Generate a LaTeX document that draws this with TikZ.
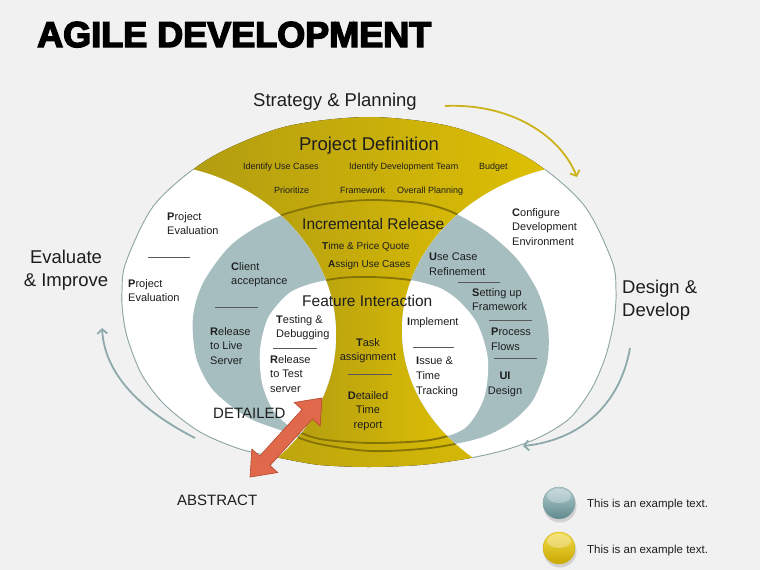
\documentclass[tikz,border=0pt]{standalone}
\usepackage{fontspec}
\setmainfont{Liberation Sans}
\newfontfamily\blackfont[FakeBold=4]{Liberation Sans}
\usetikzlibrary{arrows.meta}
\definecolor{bgc}{HTML}{F1F1F1}
\definecolor{ydark}{HTML}{AA9614}
\definecolor{ymid}{HTML}{D4B705}
\definecolor{ybright}{HTML}{E6C600}
\definecolor{yline}{HTML}{857305}
\definecolor{tealc}{HTML}{A6BEC0}
\definecolor{tealedge}{HTML}{8FA8AA}
\definecolor{arrteal}{HTML}{8DA9AB}
\definecolor{arryel}{HTML}{CDB21C}
\definecolor{redfill}{HTML}{E0694B}
\definecolor{redline}{HTML}{B5472E}
\definecolor{inkc}{HTML}{1E1E1E}
\definecolor{balltl}{HTML}{B3CDCF}
\definecolor{balltd}{HTML}{5F8A8E}
\definecolor{ballyl}{HTML}{F3DC4A}
\definecolor{ballyd}{HTML}{C9A800}
\begin{document}
\begin{tikzpicture}[x=1pt,y=-1pt,
  txt/.style={inner sep=0pt, text=inkc, font=\fontsize{11}{14.7}\selectfont, align=left, anchor=north west},
  txtcen/.style={txt, align=center, anchor=north},
  smalltxt/.style={inner sep=0pt, text=inkc, font=\fontsize{9}{11}\selectfont, anchor=north west},
  bigtxt/.style={inner sep=0pt, text=inkc, font=\fontsize{18.5}{22.5}\selectfont},
  bandtxt/.style={inner sep=0pt, text=inkc, font=\fontsize{15.5}{18}\selectfont, anchor=north west},
  divl/.style={draw=black!65, line width=0.8pt},
  carrow/.style={line width=1.8pt, -{Straight Barb[length=4.5pt,width=10pt]}},
  yshade/.style={left color=ydark, middle color=ymid, right color=ybright},
]
\useasboundingbox[fill=bgc] (0,0) rectangle (760,570);

\def\pO{plot[smooth cycle] coordinates {(369,117) (453,127) (528,158) (583,204) (612,261) (616,292) (614,320) (606,355) (592,388) (570,418) (540,437) (505,450) (465,459) (420,465) (369,467) (320,465) (280,458) (240,449) (200,432) (165,405) (142,375) (128,340) (123,315) (122,292) (126,262) (155,204) (210,158) (284,127)}}
\def\pM{plot[smooth cycle] coordinates {(370,200) (420,203) (452,212) (487,232) (517,259) (538,292) (548,327) (547,363) (533,400) (510,423) (480,438) (430,448) (370,451) (315,443) (280,430) (247,417) (213,390) (196,357) (193,317) (203,283) (228,248) (255,228) (285,214) (325,204)}}
\def\pI{plot[smooth cycle] coordinates {(372,277) (410,280) (440,288) (460,302) (478,325) (488,360) (484,398) (465,428) (430,440) (372,443) (320,439) (292,428) (273,410) (262,383) (260,350) (268,318) (288,294) (310,284) (340,278)}}

% yellow bands
\fill[yshade] \pO;
\filldraw[yshade, draw=yline, line width=1.8pt] \pM;
\filldraw[yshade, draw=yline, line width=1.8pt] \pI;

% left part
\begin{scope}
  \clip (140,335) ellipse [x radius=196pt, y radius=172pt];
  \fill[white] \pO;
  \fill[tealc] \pM;
  \fill[white] \pI;
  \draw[tealedge, line width=0.9pt] \pO;
\end{scope}
% right part
\begin{scope}
  \clip (605,330) ellipse [x radius=203pt, y radius=168pt];
  \fill[white] \pO;
  \fill[tealc] \pM;
  \fill[white] \pI;
  \draw[tealedge, line width=0.9pt] \pO;
\end{scope}

% title
\node[inner sep=0pt, anchor=base west, font=\blackfont\bfseries\fontsize{36}{40}\selectfont] (title) at (37,47) {AGILE DEVELOPMENT};

% top texts
\node[bigtxt, anchor=north] (strat) at (335,93) {Strategy \& Planning};
\node[bigtxt, anchor=north] (pdef) at (369,137) {Project Definition};
\node[smalltxt] (iuc) at (243,163) {Identify Use Cases};
\node[smalltxt] (idt) at (349,163) {Identify Development Team};
\node[smalltxt] (bud) at (479,163) {Budget};
\node[smalltxt] (pri) at (274,187) {Prioritize};
\node[smalltxt] (frm) at (340,187) {Framework};
\node[smalltxt] (ovp) at (397,187) {Overall Planning};
\node[bandtxt] (inc) at (302,218) {Incremental Release};
\node[txt, font=\fontsize{10}{12}\selectfont] (tpq) at (322,242) {\textbf{T}ime \& Price Quote};
\node[txt, font=\fontsize{10}{12}\selectfont] (auc) at (328,260) {\textbf{A}ssign Use Cases};
\node[bandtxt] (fea) at (302,295) {Feature Interaction};

% left texts
\node[txt] (pe1) at (167,212) {\textbf{P}roject\\Evaluation};
\draw[divl] (148,257) -- (190,257);
\node[txt] (pe2) at (128,279) {\textbf{P}roject\\Evaluation};
\node[txt] (cli) at (231,262) {\textbf{C}lient\\acceptance};
\draw[divl] (215,307) -- (258,307);
\node[txt] (rls) at (210,327) {\textbf{R}elease\\to Live\\Server};
\node[txt] (tst) at (276,315) {\textbf{T}esting \&\\Debugging};
\draw[divl] (273,348) -- (317,348);
\node[txt] (rts) at (270,355) {\textbf{R}elease\\to Test\\server};

% centre texts
\node[txtcen] (tas) at (368,338) {\textbf{T}ask\\assignment};
\draw[divl] (348,374) -- (392,374);
\node[txtcen] (dtr) at (368,391) {\textbf{D}etailed\\Time\\report};

% right texts
\node[txt] (imp) at (407,317) {\textbf{I}mplement};
\draw[divl] (413,347) -- (454,347);
\node[txt] (iss) at (416,357) {\textbf{I}ssue \&\\Time\\Tracking};
\node[txt] (ucr) at (429,253) {\textbf{U}se Case\\Refinement};
\draw[divl] (458,282) -- (500,282);
\node[txt] (stf) at (472,288) {\textbf{S}etting up\\Framework};
\draw[divl] (489,320) -- (532,320);
\node[txt] (prf) at (491,328) {\textbf{P}rocess\\Flows};
\draw[divl] (494,358) -- (537,358);
\node[txtcen] (uid) at (505,372) {\textbf{UI}\\Design};
\node[txt] (cde) at (512,208) {\textbf{C}onfigure\\Development\\Environment};

% side texts
\node[bigtxt, align=center, anchor=north] (evi) at (66,250) {Evaluate\\\& Improve};
\node[bigtxt, align=left, anchor=north west] (dnd) at (622,280) {Design \&\\Develop};

% curved arrows
\coordinate (sa1) at (445,106); \coordinate (sa2) at (577,177);
\draw[carrow, arryel] (sa1) .. controls (510,103) and (560,135) .. (sa2);
\coordinate (la1) at (195,438); \coordinate (la2) at (102,328);
\draw[carrow, arrteal] (la1) .. controls (150,415) and (105,380) .. (la2);
\coordinate (ra1) at (630,348); \coordinate (ra2) at (523,446);
\draw[carrow, arrteal] (ra1) .. controls (620,405) and (580,440) .. (ra2);

% red double arrow
\begin{scope}[shift={(286,437.5)}, rotate=47.7]
  \filldraw[fill=redfill, draw=redline, line width=0.6pt, line join=miter]
    (53.5,0) -- (31.5,17.5) -- (31.5,7) -- (-31.5,7) -- (-31.5,17.5) -- (-53.5,0)
    -- (-31.5,-17.5) -- (-31.5,-7) -- (31.5,-7) -- (31.5,-17.5) -- cycle;
\end{scope}
\node[txt, font=\fontsize{15}{17}\selectfont] (det) at (213,408) {DETAILED};
\node[txt, font=\fontsize{15}{17}\selectfont] (abs) at (177,495) {ABSTRACT};

% legend
\fill[black!18] (560,506) circle (16.5pt);
\node[circle, inner sep=0pt, minimum size=32pt, top color=balltl, bottom color=balltd, draw=balltd!80, line width=0.4pt] (b1) at (559,503) {};
\fill[white, opacity=0.3] (559,496) ellipse [x radius=12pt, y radius=7pt];
\fill[black!18] (560,551) circle (16.5pt);
\node[circle, inner sep=0pt, minimum size=32pt, top color=ballyl, bottom color=ballyd, draw=ballyd!90, line width=0.4pt] (b2) at (559,548) {};
\fill[white, opacity=0.3] (559,541) ellipse [x radius=12pt, y radius=7pt];
\node[txt, font=\fontsize{11.5}{13}\selectfont] (lt1) at (587,499) {This is an example text.};
\node[txt, font=\fontsize{11.5}{13}\selectfont] (lt2) at (587,545) {This is an example text.};
\end{tikzpicture}
\end{document}
